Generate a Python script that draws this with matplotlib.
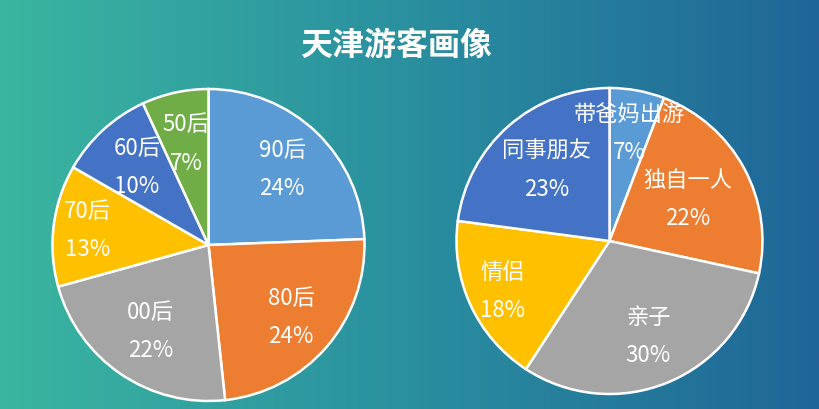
import numpy as np
import matplotlib
matplotlib.use("Agg")
import matplotlib.pyplot as plt
from matplotlib.colors import LinearSegmentedColormap

plt.rcParams['font.family'] = ['Noto Sans CJK SC', 'DejaVu Sans']

# ---- data ----
title = "天津游客画像"

age_labels = ["90后", "80后", "00后", "70后", "60后", "50后"]
age_values = [24.4, 23.9, 22.4, 12.6, 9.8, 6.9]
age_pct = ["24%", "24%", "22%", "13%", "10%", "7%"]

comp_labels = ["带爸妈出游", "独自一人", "亲子", "情侣", "同事朋友"]
comp_values = [5.8, 22.6, 30.8, 17.9, 22.9]
comp_pct = ["7%", "22%", "30%", "18%", "23%"]

# ---- style ----
colors = ["#5B9BD5", "#ED7D31", "#A5A5A5", "#FFC000", "#4472C4", "#70AD47"]
age_label_r = [0.68, 0.70, 0.66, 0.78, 0.68, 0.67]
comp_label_r = [0.72, 0.58, 0.67, 0.77, 0.62]

W, H = 819, 410
fig = plt.figure(figsize=(W / 100, H / 100), dpi=100)
ax = fig.add_axes([0, 0, 1, 1])

cmap = LinearSegmentedColormap.from_list("bg", ["#3AB6A0", "#2A8F9F", "#1F6698"])
grad = np.linspace(0, 1, 512).reshape(1, -1)
ax.imshow(grad, cmap=cmap, extent=[0, W, 0, H], aspect='auto', zorder=0)


def draw_pie(values, labels, pcts, cx, cy, r, label_r):
    wedges, _ = ax.pie(values, colors=colors[:len(values)], startangle=90,
                       counterclock=False, center=(cx, cy), radius=r,
                       wedgeprops=dict(edgecolor="white", linewidth=1.8))
    for w, lab, pct, lr in zip(wedges, labels, pcts, label_r):
        ang = np.deg2rad((w.theta1 + w.theta2) / 2)
        x = cx + lr * r * np.cos(ang)
        y = cy + lr * r * np.sin(ang)
        ax.text(x, y, f"{lab}\n{pct}", ha="center", va="center", color="white",
                fontsize=16, linespacing=1.85, zorder=5)


draw_pie(age_values, age_labels, age_pct, 208.5, H - 246, 156, age_label_r)
draw_pie(comp_values, comp_labels, comp_pct, 609.5, H - 242, 153, comp_label_r)

ax.text(396, H - 46, title, ha="center", va="center", color="white",
        fontsize=23, fontweight="bold", zorder=5)

ax.set_xlim(0, W)
ax.set_ylim(0, H)
ax.set_aspect('auto')
ax.axis('off')

fig.savefig("out.png", dpi=100)
